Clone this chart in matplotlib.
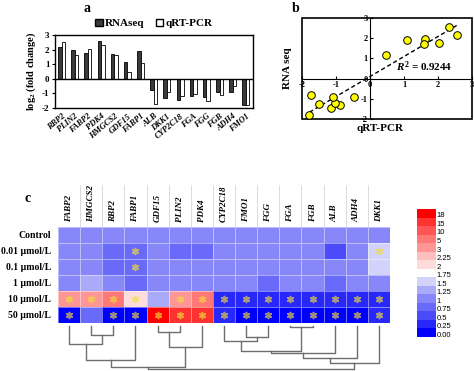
import numpy as np
import matplotlib
matplotlib.use("Agg")
import matplotlib.pyplot as plt
from matplotlib.colors import ListedColormap
from matplotlib.patches import Patch, Rectangle

plt.rcParams['font.family'] = ['Liberation Serif', 'DejaVu Serif']
plt.rcParams['font.weight'] = 'bold'
plt.rcParams['axes.unicode_minus'] = False
plt.rcParams['mathtext.fontset'] = 'custom'
plt.rcParams['mathtext.rm'] = 'Liberation Serif:bold'
plt.rcParams['mathtext.it'] = 'Liberation Serif:italic:bold'
plt.rcParams['mathtext.bf'] = 'Liberation Serif:bold'

# panel a / b data
genes = ['RBP2', 'PLIN2', 'FABP2', 'PDK4', 'HMGCS2', 'GDF15', 'FABP1', 'ALB',
         'DKK1', 'CYP2C18', 'FGA', 'FGG', 'FGB', 'ADH4', 'FMO1']
rnaseq = [2.15, 1.98, 1.75, 2.57, 1.70, 1.16, 1.92, -0.80,
          -1.32, -1.45, -1.20, -1.25, -0.93, -0.92, -1.80]
qrtpcr = [2.55, 1.63, 2.02, 2.33, 1.60, 0.48, 1.08, -1.75,
          -0.88, -1.15, -1.03, -1.50, -1.08, -0.48, -1.78]

# panel c data
hm_genes = ['FABP2', 'HMGCS2', 'RBP2', 'FABP1', 'GDF15', 'PLIN2', 'PDK4', 'CYP2C18',
            'FMO1', 'FGG', 'FGA', 'FGB', 'ALB', 'ADH4', 'DKK1']
hm_rows = ['Control', '0.01 μmol/L', '0.1 μmol/L', '1 μmol/L', '10 μmol/L', '50 μmol/L']
fold = [
    [1, 1, 1, 1, 1, 1, 1, 1, 1, 1, 1, 1, 1, 1, 1],
    [1, 1, 0.75, 0.75, 1, 0.75, 0.75, 1, 1, 1, 1, 1, 0.5, 1, 1.5],
    [1, 1, 0.75, 0.75, 1, 1, 1, 1, 1, 1, 1, 1, 1, 1, 1.5],
    [1, 1.25, 1, 0.75, 1, 1, 1, 1, 1, 0.75, 1, 1, 0.75, 1, 1],
    [3, 3, 5, 2, 1.25, 3, 5, 0.25, 0.25, 0.25, 0.25, 0.25, 0.25, 0.25, 0.25],
    [0, 0.75, 0, 0, 18, 15, 15, 0.25, 0, 0, 0, 0, 0, 0, 0.25],
]
signif = [
    [0, 0, 0, 0, 0, 0, 0, 0, 0, 0, 0, 0, 0, 0, 0],
    [0, 0, 0, 1, 0, 0, 0, 0, 0, 0, 0, 0, 0, 0, 1],
    [0, 0, 0, 1, 0, 0, 0, 0, 0, 0, 0, 0, 0, 0, 0],
    [0, 0, 0, 0, 0, 0, 0, 0, 0, 0, 0, 0, 0, 0, 0],
    [1, 1, 1, 1, 0, 1, 1, 1, 1, 1, 1, 1, 1, 1, 1],
    [1, 0, 1, 1, 1, 1, 1, 1, 1, 1, 1, 1, 1, 1, 1],
]
cbar_levels = [0, 0.25, 0.5, 0.75, 1, 1.25, 1.5, 1.75, 2, 2.25, 3, 5, 10, 15, 18]
cbar_labels = ['0.00', '0.25', '0.5', '0.75', '1', '1.25', '1.5', '1.75',
               '2', '2.25', '3', '5', '10', '15', '18']
cbar_colors = ['#0000ff', '#2828fa', '#4b4bfa', '#6969fa', '#8787fa', '#aaaafa',
               '#d2d2fa', '#ffffff', '#ffdcdc', '#ffbebe', '#ff9696', '#ff7878',
               '#ff5555', '#ff3232', '#ff0000']
# dendrogram merges: (child a, child b, height); leaves 0..14, new clusters from 15
merges = [(10, 11, 4.0), (4, 5, 8.7), (1, 2, 12.0), (8, 9, 14.3), (7, 18, 18.0),
          (0, 17, 21.0), (16, 6, 24.3), (19, 15, 27.7), (22, 12, 30.3),
          (23, 13, 34.7), (20, 3, 37.0), (24, 14, 40.3), (25, 21, 43.7),
          (27, 26, 46.3)]

W, H = 474, 371
fig = plt.figure(figsize=(W / 100, H / 100), dpi=100)


def box(l, t, r, b):
    return [l / W, 1 - b / H, (r - l) / W, (b - t) / H]


# ---- panel a: bars
ax = fig.add_axes(box(55, 35, 252.5, 108))
x = np.arange(len(genes))
bw = 0.27
ax.bar(x - bw / 2, rnaseq, bw, color='#3a3a3a', edgecolor='k', linewidth=0.6)
ax.bar(x + bw / 2, qrtpcr, bw, color='white', edgecolor='k', linewidth=0.6)
ax.axhline(0, color='k', lw=1)
ax.set_xlim(-0.5, len(genes) - 0.5)
ax.set_ylim(-2, 3)
ax.set_yticks(range(-2, 4))
ax.tick_params(axis='y', labelsize=6.5, length=2, pad=2)
ax.set_xticks(x)
ax.set_xticklabels(genes, rotation=40, ha='right', rotation_mode='anchor',
                   fontsize=6, style='italic')
ax.tick_params(axis='x', length=0, pad=3)
for s in ax.spines.values():
    s.set_linewidth(1)
ax.legend(handles=[Patch(facecolor='#3a3a3a', edgecolor='k', label='RNAseq'),
                   Patch(facecolor='white', edgecolor='k', label='qRT-PCR')],
          loc='lower center', bbox_to_anchor=(0.5, 1.0), ncol=2, frameon=False,
          handlelength=0.7, handleheight=0.7, handletextpad=0.2,
          columnspacing=1.0, borderaxespad=0.2, prop={'size': 8, 'weight': 'bold'})
fig.text(31 / W, 1 - 71 / H, r'log$_{2}$ (fold change)', rotation=90,
         ha='center', va='center', fontsize=7.5)

# ---- panel b: scatter
bx = fig.add_axes(box(302, 18, 472, 119))
bx.scatter(qrtpcr, rnaseq, s=30, c='#ffff00', edgecolors='k', linewidths=0.7, zorder=3)
fit = np.polyfit(qrtpcr, rnaseq, 1)
xs = np.array([min(qrtpcr), max(qrtpcr)])
bx.plot(xs, np.polyval(fit, xs), 'k--', lw=1, dashes=(3, 2), zorder=2)
bx.set_xlim(-2, 3)
bx.set_ylim(-2, 3)
bx.spines['left'].set_position(('data', 0))
bx.spines['bottom'].set_position(('data', 0))
bx.spines['top'].set_visible(False)
bx.spines['right'].set_visible(False)
bx.add_patch(Rectangle((0, 0), 1, 1, transform=bx.transAxes, fill=False,
                       lw=1.2, edgecolor='k', clip_on=False))
bx.set_xticks(range(-2, 4))
bx.set_yticks(range(-2, 4))
bx.tick_params(labelsize=6, length=2, direction='in', pad=1.5)
bx.text(1.6, 0.6, r'$R^{2}$ = 0.9244', fontsize=8, ha='center', va='center')
fig.text(380 / W, 1 - 129 / H, 'qRT-PCR', ha='center', va='center', fontsize=8)
fig.text(287 / W, 1 - 68 / H, 'RNA seq', rotation=90, ha='center', va='center',
         fontsize=8)

# ---- panel c: heatmap
cmap = ListedColormap(cbar_colors)
idx = np.searchsorted(cbar_levels, np.array(fold, dtype=float))
nr, nc = idx.shape
cx = fig.add_axes(box(58, 226.7, 390, 323))
cx.pcolormesh(np.arange(nc + 1), np.arange(nr + 1), idx, cmap=cmap, vmin=-0.5,
              vmax=len(cbar_levels) - 0.5, edgecolors=(1, 1, 1, 0.45), linewidth=0.6)
cx.set_xlim(0, nc)
cx.set_ylim(nr, 0)
cx.set_xticks([])
cx.set_yticks(np.arange(nr) + 0.5)
cx.set_yticklabels(hm_rows, fontsize=7)
cx.tick_params(axis='y', length=0, pad=5)
for s in cx.spines.values():
    s.set_visible(False)
rr, cc = np.nonzero(np.array(signif))
cx.scatter(cc + 0.5, rr + 0.5, marker=(6, 2, 0), s=18, linewidths=1.2,
           color='#f0dc3c', alpha=0.65, zorder=3)

# column headers with separators
hx = fig.add_axes(box(58, 185, 390, 226.7))
hx.set_xlim(0, nc)
hx.set_ylim(0, 1)
hx.axis('off')
hx.vlines(np.arange(1, nc), 0, 1, color='#d6d6d6', lw=0.6)
for i, g in enumerate(hm_genes):
    hx.text(i + 0.5, 0.11, g, rotation=90, ha='center', va='bottom',
            fontsize=6.5, style='italic')

# dendrogram
dx = fig.add_axes(box(58, 323, 390, 371))
dx.set_xlim(0, nc)
dx.set_ylim(48, 0)
dx.axis('off')
pos = {i: (i + 0.5, 2.5) for i in range(nc)}
for k, (a, b, h) in enumerate(merges):
    xa, ha_ = pos[a]
    xb, hb = pos[b]
    dx.plot([xa, xa, xb, xb], [ha_, h, h, hb], color='#6e6e6e', lw=1)
    pos[nc + k] = ((xa + xb) / 2, h)

# colour bar
kx = fig.add_axes(box(416.7, 209, 435, 336.7))
kx.imshow(np.arange(len(cbar_levels))[::-1].reshape(-1, 1), cmap=cmap,
          aspect='auto', vmin=-0.5, vmax=len(cbar_levels) - 0.5,
          extent=(0, 1, -0.5, len(cbar_levels) - 0.5))
kx.set_xticks([])
kx.yaxis.tick_right()
kx.set_yticks(np.arange(len(cbar_levels)) - 0.2)
kx.set_yticklabels(cbar_labels, fontsize=5.5, family='Liberation Sans',
                   weight='normal')
kx.tick_params(axis='y', length=0, pad=1)
for s in kx.spines.values():
    s.set_visible(False)

# panel letters
fig.text(87 / W, 1 - 8 / H, 'a', fontsize=10, ha='center', va='center')
fig.text(296 / W, 1 - 8 / H, 'b', fontsize=10, ha='center', va='center')
fig.text(28 / W, 1 - 198 / H, 'c', fontsize=10, ha='center', va='center')

fig.savefig('out.png', dpi=100)
